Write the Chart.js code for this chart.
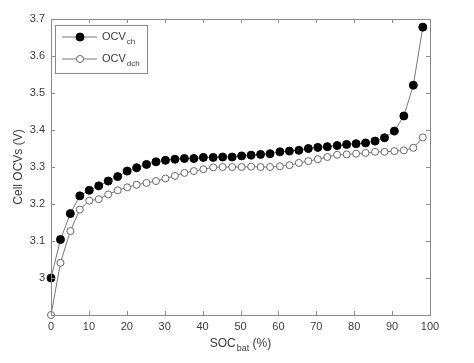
<!DOCTYPE html>
<html>
<head>
<meta charset="utf-8">
<script src="https://cdn.jsdelivr.net/npm/chart.js@4"></script>
<style>
  html, body { margin: 0; padding: 0; background: #fff; }
  #wrap { width: 474px; height: 363px; position: relative; }
</style>
</head>
<body>
<div id="wrap"><canvas id="ocv-chart"></canvas></div>
<script>
// SOC of the battery (%) for each measurement
const socValues = [
  0, 2.5, 5.1, 7.6, 10.1, 12.6, 15.1, 17.6, 20.1, 22.6,
  25.2, 27.7, 30.2, 32.7, 35.2, 37.7, 40.2, 42.8, 45.3, 47.8,
  50.3, 52.8, 55.3, 57.8, 60.4, 62.9, 65.4, 67.9, 70.4, 72.9,
  75.5, 78.0, 80.5, 83.0, 85.5, 88.0, 90.6, 93.1, 95.6, 98.1
];

// OCV after charge (V)
const ocvCharge = [
  3.000, 3.104, 3.174, 3.222, 3.237, 3.249, 3.262, 3.274, 3.289, 3.298,
  3.307, 3.314, 3.318, 3.321, 3.323, 3.323, 3.326, 3.326, 3.327, 3.327,
  3.330, 3.332, 3.334, 3.336, 3.341, 3.343, 3.345, 3.350, 3.353, 3.355,
  3.358, 3.361, 3.363, 3.365, 3.370, 3.379, 3.397, 3.438, 3.521, 3.678
];

// OCV after discharge (V)
const ocvDischarge = [
  2.900, 3.041, 3.127, 3.185, 3.209, 3.213, 3.226, 3.237, 3.245, 3.252,
  3.257, 3.262, 3.269, 3.276, 3.284, 3.289, 3.294, 3.299, 3.300, 3.300,
  3.300, 3.301, 3.300, 3.300, 3.302, 3.305, 3.311, 3.316, 3.321, 3.327,
  3.333, 3.334, 3.336, 3.338, 3.341, 3.341, 3.343, 3.345, 3.352, 3.380
];

const xTicks = [0, 10, 20, 30, 40, 50, 60, 70, 80, 90, 100];
const yTicks = [2.9, 3.0, 3.1, 3.2, 3.3, 3.4, 3.5, 3.6, 3.7];

const FONT = "'Liberation Sans', Arial, sans-serif";
const TEXT = "#3a3a3a";
const AXIS = "#8a8a8a";
const LINE = "#777777";

function toPoints(ys) {
  return socValues.map((x, i) => ({ x: x, y: ys[i] }));
}

// frame, inward ticks, legend and x title with subscripts
const matlabLook = {
  id: "matlabLook",
  afterDraw(chart) {
    const ctx = chart.ctx;
    const a = chart.chartArea;
    const xs = chart.scales.x;
    const ys = chart.scales.y;
    const tl = 4;

    ctx.save();
    ctx.strokeStyle = AXIS;
    ctx.lineWidth = 1;
    ctx.strokeRect(Math.round(a.left) + 0.5, Math.round(a.top) + 0.5,
      Math.round(a.right - a.left), Math.round(a.bottom - a.top));

    ctx.beginPath();
    xTicks.forEach(v => {
      const px = Math.round(xs.getPixelForValue(v)) + 0.5;
      ctx.moveTo(px, a.bottom); ctx.lineTo(px, a.bottom - tl);
      ctx.moveTo(px, a.top); ctx.lineTo(px, a.top + tl);
    });
    yTicks.forEach(v => {
      const py = Math.round(ys.getPixelForValue(v)) + 0.5;
      ctx.moveTo(a.left, py); ctx.lineTo(a.left + tl, py);
      ctx.moveTo(a.right, py); ctx.lineTo(a.right - tl, py);
    });
    ctx.stroke();

    // legend
    const lx = a.left + 4, ly = a.top + 6, lw = 92, lh = 48;
    ctx.fillStyle = "#fff";
    ctx.fillRect(lx, ly, lw, lh);
    ctx.strokeStyle = AXIS;
    ctx.strokeRect(Math.round(lx) + 0.5, Math.round(ly) + 0.5, lw, lh);

    const rows = [
      { sub: "ch", ds: chart.data.datasets[0] },
      { sub: "dch", ds: chart.data.datasets[1] }
    ];
    rows.forEach((r, i) => {
      const ry = ly + 12 + i * 22;
      ctx.strokeStyle = LINE;
      ctx.beginPath();
      ctx.moveTo(lx + 7, ry); ctx.lineTo(lx + 42, ry);
      ctx.stroke();
      ctx.beginPath();
      ctx.arc(lx + 25, ry, r.ds.pointRadius, 0, Math.PI * 2);
      ctx.fillStyle = r.ds.pointBackgroundColor;
      ctx.fill();
      ctx.strokeStyle = r.ds.pointBorderColor;
      ctx.stroke();

      ctx.fillStyle = TEXT;
      ctx.textBaseline = "alphabetic";
      ctx.textAlign = "left";
      ctx.font = "11px " + FONT;
      ctx.fillText("OCV", lx + 47, ry + 3);
      const w = ctx.measureText("OCV").width;
      ctx.font = "8px " + FONT;
      ctx.fillText(r.sub, lx + 47 + w + 1, ry + 7);
    });

    // x title: SOC_bat (%)
    const cx = (a.left + a.right) / 2;
    const by = 347;
    ctx.fillStyle = TEXT;
    ctx.font = "12px " + FONT;
    const w1 = ctx.measureText("SOC").width;
    const w3 = ctx.measureText(" (%)").width;
    ctx.font = "9px " + FONT;
    const w2 = ctx.measureText("bat").width;
    let x0 = cx - (w1 + w2 + w3 + 1) / 2;
    ctx.textAlign = "left";
    ctx.font = "12px " + FONT;
    ctx.fillText("SOC", x0, by);
    ctx.font = "9px " + FONT;
    ctx.fillText("bat", x0 + w1 + 1, by + 4);
    ctx.font = "12px " + FONT;
    ctx.fillText(" (%)", x0 + w1 + w2 + 1, by);
    ctx.restore();
  }
};

new Chart(document.getElementById("ocv-chart"), {
  type: "line",
  data: {
    datasets: [
      {
        label: "OCVch",
        data: toPoints(ocvCharge),
        borderColor: LINE,
        borderWidth: 1,
        pointRadius: 4,
        pointBackgroundColor: "#000",
        pointBorderColor: "#000",
        pointBorderWidth: 1,
        tension: 0
      },
      {
        label: "OCVdch",
        data: toPoints(ocvDischarge),
        borderColor: LINE,
        borderWidth: 1,
        pointRadius: 3.5,
        pointBackgroundColor: "#fff",
        pointBorderColor: "#666",
        pointBorderWidth: 1,
        tension: 0
      }
    ]
  },
  options: {
    responsive: true,
    maintainAspectRatio: false,
    animation: false,
    clip: false,
    layout: { padding: { top: 19, right: 44, left: 0, bottom: 0 } },
    plugins: {
      legend: { display: false },
      tooltip: { enabled: false }
    },
    scales: {
      x: {
        type: "linear",
        min: 0,
        max: 100,
        afterFit: s => { s.height = 48; },
        afterBuildTicks: s => { s.ticks = xTicks.map(v => ({ value: v })); },
        grid: { display: false, drawTicks: false },
        border: { display: false },
        ticks: {
          color: TEXT,
          font: { family: FONT, size: 11 },
          padding: 5,
          maxRotation: 0
        }
      },
      y: {
        min: 2.9,
        max: 3.7,
        afterFit: s => { s.width = 51; },
        afterBuildTicks: s => { s.ticks = yTicks.map(v => ({ value: v })); },
        grid: { display: false, drawTicks: false },
        border: { display: false },
        ticks: {
          color: TEXT,
          font: { family: FONT, size: 11 },
          padding: 6,
          callback: v => {
            const r = Math.round(v * 10) / 10;
            return r < 2.95 ? "" : String(r);
          }
        },
        title: {
          display: true,
          text: "Cell OCVs (V)",
          color: TEXT,
          font: { family: FONT, size: 12 },
          padding: { top: 11, bottom: 0 }
        }
      }
    }
  },
  plugins: [matlabLook]
});
</script>
</body>
</html>
